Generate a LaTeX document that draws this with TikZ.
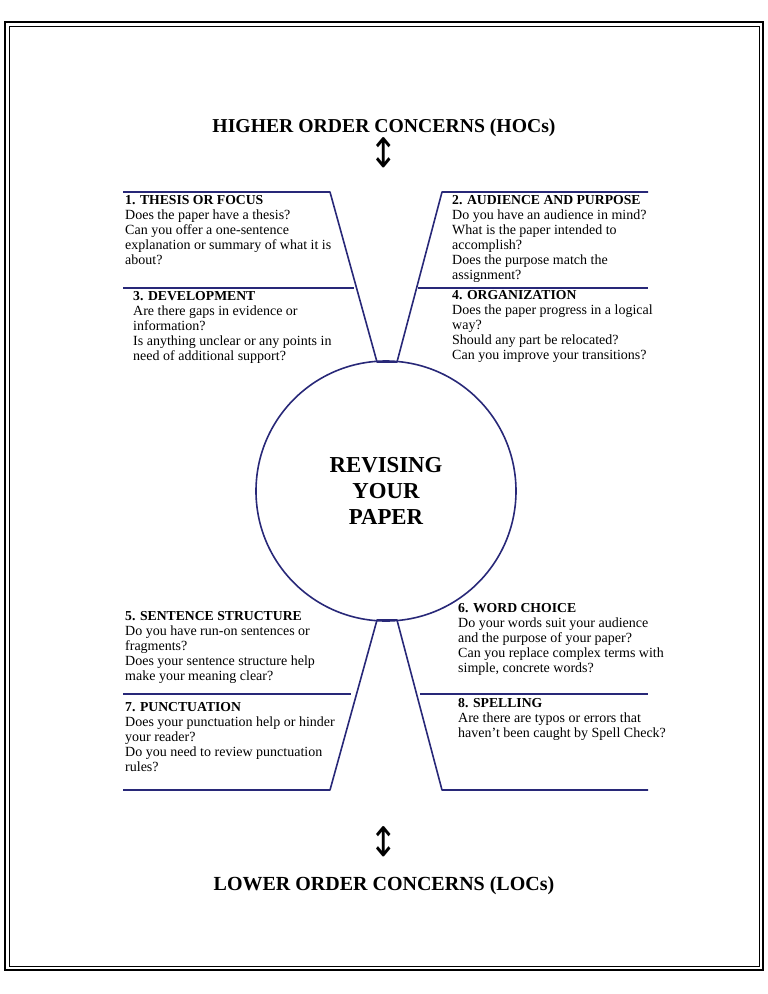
\documentclass[tikz,border=0pt]{standalone}
\usepackage{fontspec}
\setmainfont{Liberation Serif}
\newfontfamily\symf{DejaVu Sans}
\definecolor{navy}{RGB}{40,40,120}
\begin{document}
\begin{tikzpicture}[x=1pt,y=-1pt,
  ln/.style={draw=navy,line width=1.6pt,line join=round},
  txt/.style={anchor=north west,align=left,inner sep=0pt,font=\fontsize{14}{15}\selectfont}]
\newcommand\hdx[1]{{\bfseries\fontsize{13.7}{15}\selectfont #1}}
\useasboundingbox (0,0) rectangle (768,994);
\draw[line width=2pt] (5,22) rectangle (763,970);
\draw[line width=0.6pt] (9,26) rectangle (759,966);
\node[font=\bfseries\fontsize{19.7}{22}\selectfont] (hoc) at (384,128) {HIGHER ORDER CONCERNS (HOCs)};
\node[font=\symf\fontsize{34}{34}\selectfont,yscale=1.2] (a1) at (384,153) {↕};
\node[font=\symf\fontsize{34}{34}\selectfont,yscale=1.2] (a2) at (384,842) {↕};
\node[font=\bfseries\fontsize{20}{24}\selectfont] (loc) at (384,886) {LOWER ORDER CONCERNS (LOCs)};
\node[draw=navy,line width=1.6pt,circle,minimum size=260pt,inner sep=0pt,align=center,font=\bfseries\fontsize{22.8}{26}\selectfont] (c) at (386,491) {REVISING\\YOUR\\PAPER};
% top structure
\draw[ln] (123,192) -- (330,192) -- (377,362) -- (397,362) -- (442,192) -- (648,192);
\draw[ln] (123,288) -- (354,288);
\draw[ln] (418,288) -- (648,288);
% bottom structure
\draw[ln] (123,790) -- (330,790) -- (377,620) -- (397,620) -- (442,790) -- (648,790);
\draw[ln] (123,694) -- (351,694);
\draw[ln] (420,694) -- (648,694);
\node[txt] (t1) at (125,195) {\hdx{1. THESIS OR FOCUS}\\Does the paper have a thesis?\\Can you offer a one-sentence\\explanation or summary of what it is\\about?};
\node[txt] (t2) at (452,195) {\hdx{2. AUDIENCE AND PURPOSE}\\Do you have an audience in mind?\\What is the paper intended to\\accomplish?\\Does the purpose match the\\assignment?};
\node[txt] (t3) at (133,291) {\hdx{3. DEVELOPMENT}\\Are there gaps in evidence or\\information?\\Is anything unclear or any points in\\need of additional support?};
\node[txt] (t4) at (452,290) {\hdx{4. ORGANIZATION}\\Does the paper progress in a logical\\way?\\Should any part be relocated?\\Can you improve your transitions?};
\node[txt] (t5) at (125,611) {\hdx{5. SENTENCE STRUCTURE}\\Do you have run-on sentences or\\fragments?\\Does your sentence structure help\\make your meaning clear?};
\node[txt] (t6) at (458,603) {\hdx{6. WORD CHOICE}\\Do your words suit your audience\\and the purpose of your paper?\\Can you replace complex terms with\\simple, concrete words?};
\node[txt] (t7) at (125,702) {\hdx{7. PUNCTUATION}\\Does your punctuation help or hinder\\your reader?\\Do you need to review punctuation\\rules?};
\node[txt] (t8) at (458,698) {\hdx{8. SPELLING}\\Are there are typos or errors that\\haven’t been caught by Spell Check?};
\end{tikzpicture}
\end{document}
